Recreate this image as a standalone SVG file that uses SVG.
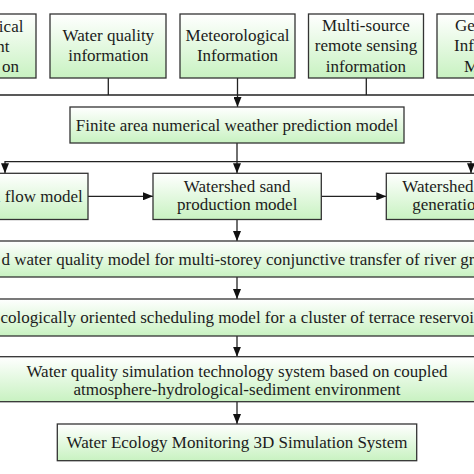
<svg xmlns="http://www.w3.org/2000/svg" width="474" height="474" viewBox="0 0 474 474">
<style>
.box{stroke:#333;stroke-width:1.3;fill:url(#g)}
.t{font-family:"Liberation Serif","Times New Roman",serif;font-size:17px;fill:#1c1c1c}
.m{text-anchor:middle}
.e{text-anchor:end}
.c{stroke:#222;stroke-width:1.3;fill:none}
.a{marker-end:url(#arr)}
</style>
<defs>
<linearGradient id="g" x1="0" y1="0" x2="0" y2="1">
<stop offset="0" stop-color="#ffffff"/>
<stop offset="1" stop-color="#c8f2c1"/>
</linearGradient>
<marker id="arr" markerUnits="userSpaceOnUse" markerWidth="10" markerHeight="8" refX="10" refY="4" orient="auto">
<path d="M0,0 L10,4 L0,8 z" fill="#111"/>
</marker>
</defs>
<rect width="474" height="474" fill="#fff"/>
<g id="connectors">
<path class="c" d="M0,95 H474"/>
<path class="c" d="M108.3,78 V95"/>
<path class="c" d="M366.3,78 V95"/>
<path class="c a" d="M237.5,78 V107"/>
<path class="c a" d="M237,143 V173.3"/>
<path class="c a" d="M237,161.7 H5 V173.3"/>
<path class="c a" d="M237,161.7 H471 V173.3"/>
<path class="c a" d="M88,196.3 H153"/>
<path class="c a" d="M321.3,196.3 H386.3"/>
<path class="c a" d="M237,219.5 V241"/>
<path class="c a" d="M237,277 V299"/>
<path class="c a" d="M237,336 V356.7"/>
<path class="c a" d="M237,401.7 V424"/>
</g>
<g id="n_hydro">
<rect class="box" x="-79" y="14" width="115" height="64"/>
<text class="t e" x="23.4" y="31.6">ical</text>
<text class="t e" x="9.5" y="51.6">nt</text>
<text class="t e" x="19.1" y="71.6">on</text>
</g>
<g id="n_waterq">
<rect class="box" x="50" y="14" width="116" height="64"/>
<text class="t m" x="108.3" y="40.6">Water quality</text>
<text class="t m" x="108.3" y="60.8">information</text>
</g>
<g id="n_meteo">
<rect class="box" x="180" y="14" width="115" height="64"/>
<text class="t m" x="237.5" y="40.6">Meteorological</text>
<text class="t m" x="237.5" y="60.8">Information</text>
</g>
<g id="n_remote">
<rect class="box" x="308.5" y="14" width="115" height="64"/>
<text class="t m" x="366" y="31.2">Multi-source</text>
<text class="t m" x="366" y="51.4">remote sensing</text>
<text class="t m" x="366" y="71.6">information</text>
</g>
<g id="n_geo">
<rect class="box" x="437" y="14" width="115" height="64"/>
<text class="t" x="455" y="31.2">Ge</text>
<text class="t" x="454" y="51.4">Inf</text>
<text class="t" x="464" y="71.6">M</text>
</g>
<g id="n_finite">
<rect class="box" x="70" y="107" width="334" height="36"/>
<text class="t m" x="237" y="131">Finite area numerical weather prediction model</text>
</g>
<g id="n_flow">
<rect class="box" x="-80" y="173.3" width="168" height="46.2"/>
<text class="t e" x="82.7" y="202.3">n flow model</text>
</g>
<g id="n_sand">
<rect class="box" x="153" y="173.3" width="168.3" height="46.2"/>
<text class="t m" x="237.2" y="192.4">Watershed sand</text>
<text class="t m" x="237.2" y="210.2">production model</text>
</g>
<g id="n_gen">
<rect class="box" x="386.3" y="173.3" width="168" height="46.2"/>
<text class="t" x="402.3" y="192.4">Watershed</text>
<text class="t" x="412.3" y="210.2">generatio</text>
</g>
<g id="n_wq_model">
<rect class="box" x="-5" y="241" width="484" height="36"/>
<text class="t" x="1.5" y="265">d water quality model for multi-storey conjunctive transfer of river gr</text>
</g>
<g id="n_sched">
<rect class="box" x="-5" y="299" width="484" height="37"/>
<text class="t" x="0.5" y="323.3">cologically oriented scheduling model for a cluster of terrace reservoi</text>
</g>
<g id="n_sim_tech">
<rect class="box" x="-5" y="356.7" width="484" height="45"/>
<text class="t m" x="237" y="376.6">Water quality simulation technology system based on coupled</text>
<text class="t m" x="237" y="395.4">atmosphere-hydrological-sediment environment</text>
</g>
<g id="n_3d">
<rect class="box" x="57.3" y="424" width="359.4" height="36.7"/>
<text class="t m" x="237" y="448.3">Water Ecology Monitoring 3D Simulation System</text>
</g>
</svg>
